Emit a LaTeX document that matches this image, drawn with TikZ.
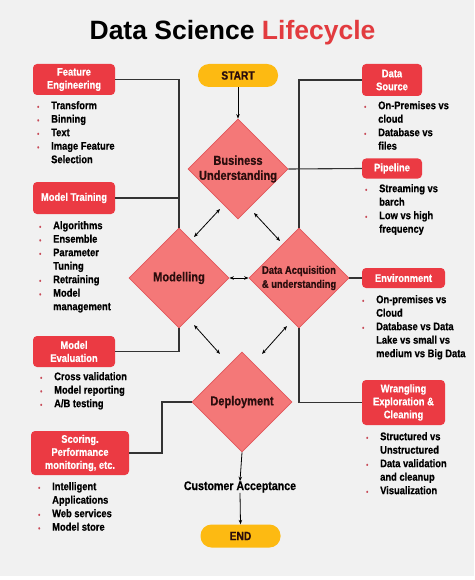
\documentclass[tikz,border=0pt]{standalone}
\usepackage{fontspec}
\setmainfont{Liberation Sans}[FakeStretch=0.85, BoldFeatures={FakeBold=0.6}]
\newfontfamily\titlefont{Liberation Sans}
\usetikzlibrary{shapes.geometric,arrows.meta,calc}
\definecolor{bgc}{HTML}{F1F1F1}
\definecolor{hdrred}{HTML}{EB3A43}
\definecolor{titlered}{HTML}{E23B3F}
\definecolor{diafill}{HTML}{F47878}
\definecolor{diaedge}{HTML}{E2565B}
\definecolor{diatext}{HTML}{2B0D0D}
\definecolor{pill}{HTML}{FDBA12}
\definecolor{bulred}{HTML}{C84A58}
\definecolor{linec}{HTML}{333333}
\newcommand{\bl}{\makebox[14pt][l]{\color{bulred}\fontsize{7}{7}\selectfont\textbullet}}
\newcommand{\nb}{\hspace*{14pt}}
\tikzset{
  hdr/.style={fill=hdrred, rounded corners=4pt, text=white,
    font=\fontsize{11}{13}\selectfont\bfseries, align=center, inner sep=0pt},
  dia/.style={diamond, draw=diaedge, fill=diafill, line width=0.8pt,
    minimum width=100pt, minimum height=100pt, inner sep=0pt, aspect=1},
  dtxt/.style={text=diatext, font=\fontsize{13}{15}\selectfont\bfseries, align=center, inner sep=0pt},
  pillbox/.style={fill=pill, rounded corners=11pt, text=diatext,
    font=\fontsize{12}{14}\selectfont\bfseries, minimum width=80pt, minimum height=23pt, inner sep=0pt},
  lst/.style={anchor=north west, inner sep=0pt, text=black, align=left,
    font=\fontsize{11}{13.5}\selectfont\bfseries},
  conn/.style={draw=linec, line width=1.1pt},
  arr/.style={draw=black, line width=0.8pt, -{Stealth[length=4.5pt,width=3.5pt]}},
  darr/.style={draw=black, line width=0.8pt, {Stealth[length=4.5pt,width=3.5pt]}-{Stealth[length=4.5pt,width=3.5pt]}}
}
\begin{document}
\begin{tikzpicture}[x=1pt,y=-1pt]
\fill[bgc] (0,0) rectangle (474,580);
\fill[white] (0,576) rectangle (474,580);
\useasboundingbox (0,0) rectangle (474,580);

% title
\node[anchor=base, inner sep=0pt, font=\titlefont\fontsize{26.5}{30}\selectfont\bfseries] (title) at (232.5,40)
  {Data Science \textcolor{titlered}{Lifecycle}};

% diamonds
\node[dia] (bu) at (238,169) {};
\node[dia] (mod) at (179,278) {};
\node[dia] (da) at (299,278) {};
\node[dia] (dep) at (242,402) {};
\node[dtxt] (bu-t) at (bu) {Business\\Understanding};
\node[dtxt] (mod-t) at (mod) {Modelling};
\node[dtxt, font=\fontsize{11}{14}\selectfont\bfseries] (da-t) at (da) {Data Acquisition\\\& understanding};
\node[dtxt] (dep-t) at (dep) {Deployment};

% start / end
\node[pillbox] (start) at (238,75.5) {START};
\node[pillbox] (end) at (240.5,536) {END};
\node[dtxt, font=\fontsize{12.5}{15}\selectfont\bfseries, text=black] (ca) at (240,487) {Customer Acceptance};

% header boxes
\node[hdr, minimum width=82pt, minimum height=31pt] (fe) at (74,79.5) {Feature\\Engineering};
\node[hdr, minimum width=60pt, minimum height=32pt] (ds) at (392,80) {Data\\Source};
\node[hdr, minimum width=60pt, minimum height=20pt] (pipe) at (392,168.5) {Pipeline};
\node[hdr, minimum width=82pt, minimum height=32pt] (mt) at (74,198) {Model Training};
\node[hdr, minimum width=83pt, minimum height=20pt] (env) at (403.5,278) {Environment};
\node[hdr, minimum width=82pt, minimum height=31pt] (me) at (74,351.5) {Model\\Evaluation};
\node[hdr, minimum width=83pt, minimum height=45pt] (wr) at (403.5,402.5) {Wrangling\\Exploration \&\\Cleaning};
\node[hdr, minimum width=98pt, minimum height=44pt] (sc) at (80,453) {Scoring.\\Performance\\monitoring, etc.};

% bullet lists
\node[lst] (fe-l) at (37,101) {\bl Transform\\ \bl Binning\\ \bl Text\\ \bl Image Feature\\ \nb Selection};
\node[lst] (mt-l) at (39,221) {\bl Algorithms\\ \bl Ensemble\\ \bl Parameter\\ \nb Tuning\\ \bl Retraining\\ \bl Model\\ \nb management};
\node[lst] (me-l) at (40,372) {\bl Cross validation\\ \bl Model reporting\\ \bl A/B testing};
\node[lst] (sc-l) at (38,482) {\bl Intelligent\\ \nb Applications\\ \bl Web services\\ \bl Model store};
\node[lst] (ds-l) at (364,101) {\bl On-Premises vs\\ \nb cloud\\ \bl Database vs\\ \nb files};
\node[lst] (pipe-l) at (365,184) {\bl Streaming vs\\ \nb barch\\ \bl Low vs high\\ \nb frequency};
\node[lst] (env-l) at (362,295) {\bl On-premises vs\\ \nb Cloud\\ \bl Database vs Data\\ \nb Lake vs small vs\\ \nb medium vs Big Data};
\node[lst] (wr-l) at (366,432) {\bl Structured vs\\ \nb Unstructured\\ \bl Data validation\\ \nb and cleanup\\ \bl Visualization};

% connectors
\draw[conn] (fe.east) -- (mod.north |- fe.east) -- (mod.north);
\draw[conn] (mt.east) -- (mod.north |- mt.east);
\draw[conn] (mod.south) |- (me.east);
\draw[conn] (ds.west) -- (da.north |- ds.west) -- (da.north);
\draw[conn] (bu.east) -- (pipe.west);
\draw[conn] (da.east) -- (env.west);
\draw[conn] (da.south) |- (wr.west);
\coordinate (k1) at (162,402);
\draw[conn] (dep.west) -- (k1) |- (sc.east);

% arrows
\draw[arr] (start.south) -- (bu.north);
\draw[arr] (dep.south) -- (ca.north);
\draw[arr] (ca.south) -- (end.north);
\coordinate (a1) at (220,209); \coordinate (a2) at (194,237);
\coordinate (b1) at (254,213); \coordinate (b2) at (280,241);
\coordinate (c1) at (194,325); \coordinate (c2) at (220,354);
\coordinate (d1) at (287,326); \coordinate (d2) at (262,354);
\draw[darr] (a1) -- (a2);
\draw[darr] (b1) -- (b2);
\draw[darr] (mod.east) -- (da.west);
\draw[darr] (c1) -- (c2);
\draw[darr] (d2) -- (d1);
\end{tikzpicture}
\end{document}
